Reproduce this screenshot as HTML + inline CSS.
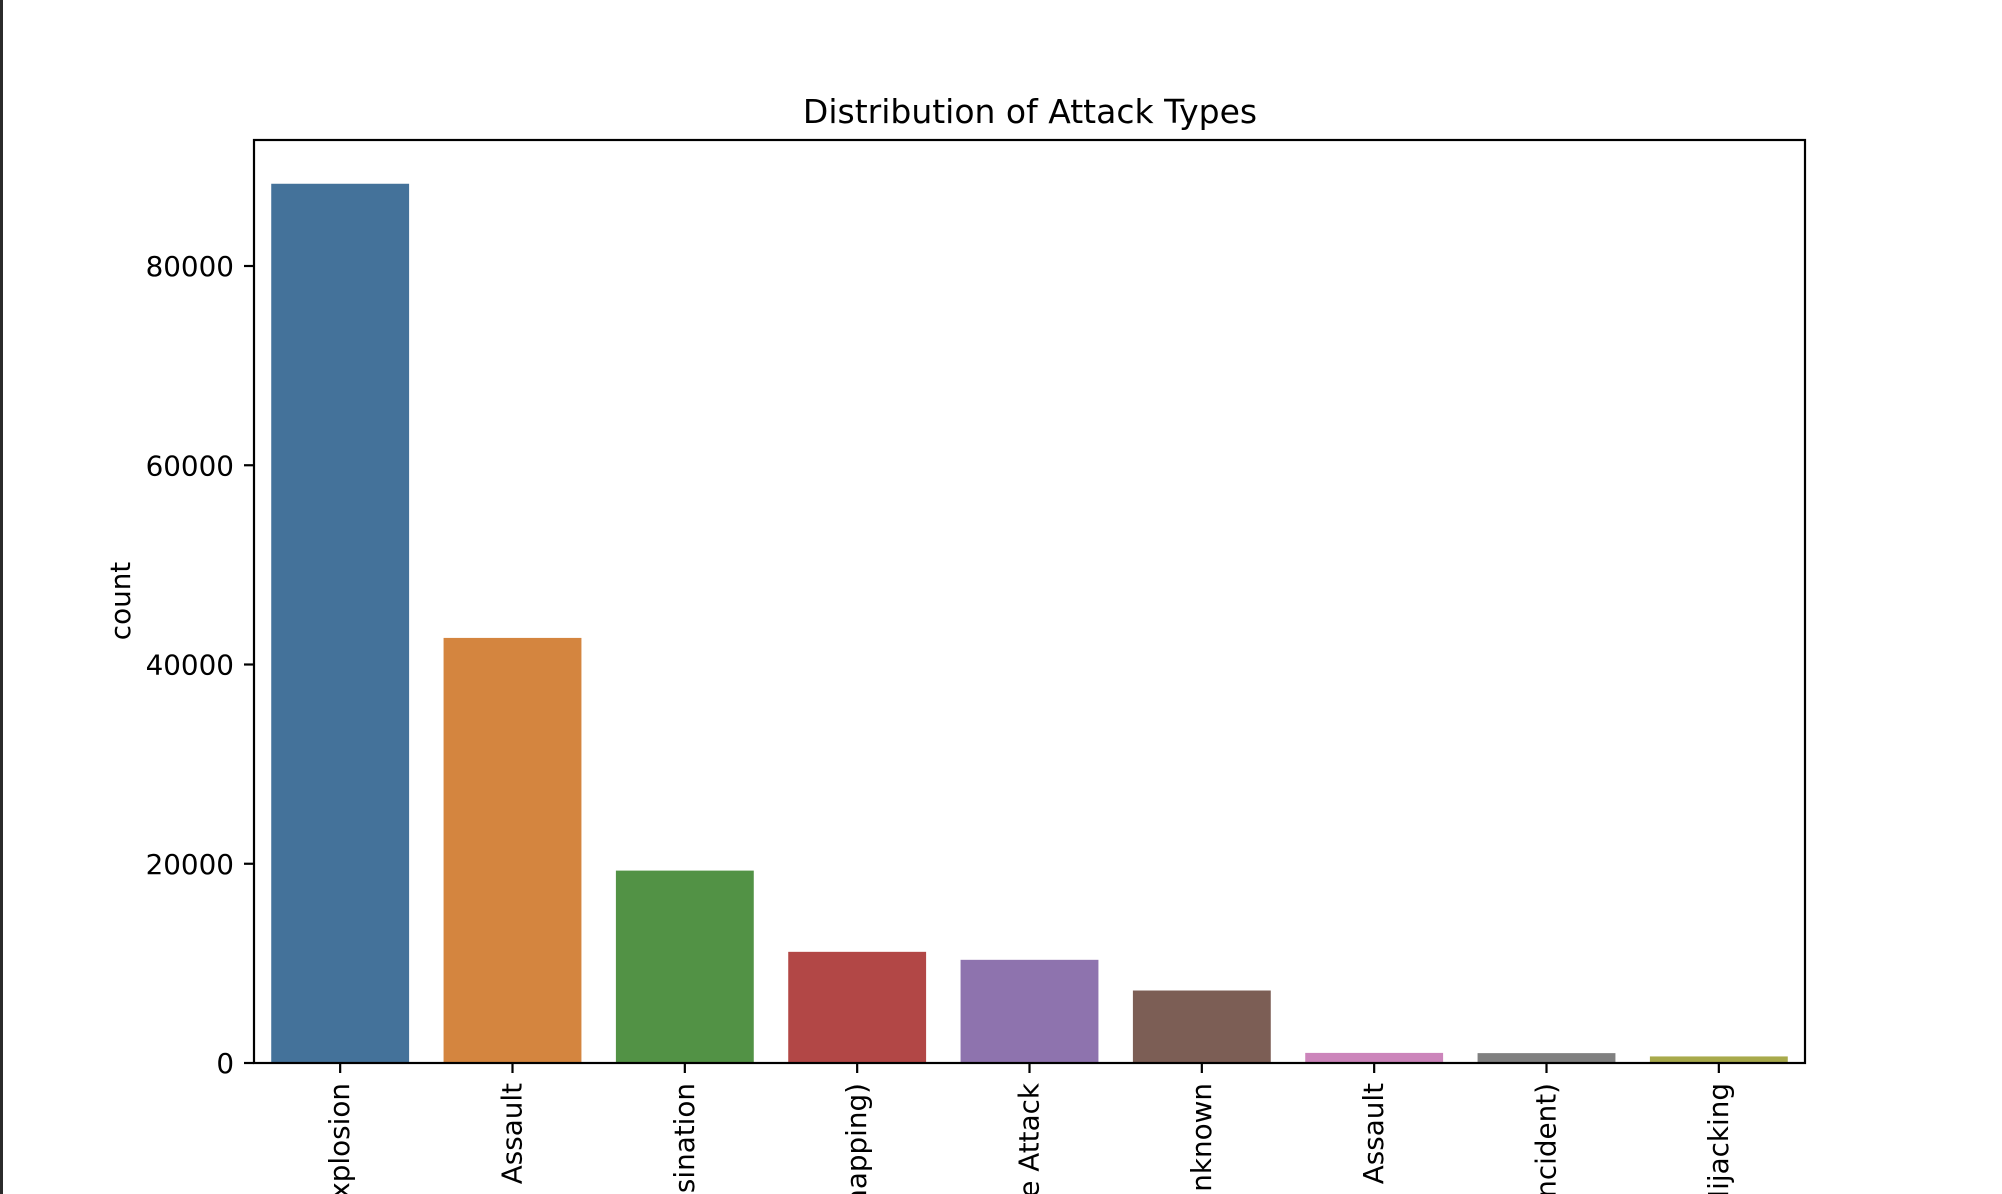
<!DOCTYPE html>
<html><head><meta charset="utf-8"><style>
html,body{margin:0;padding:0;background:#fff;width:2002px;height:1194px;overflow:hidden;}
svg{display:block;font-family:"DejaVu Sans","Liberation Sans",sans-serif;}
</style></head><body>
<svg id="chart" width="2002" height="1194" viewBox="0 0 2002 1194" overflow="hidden">
<rect x="0" y="0" width="3" height="1194" fill="#2b2b2b"/>
<text x="1030" y="123" font-size="33" text-anchor="middle" fill="#000">Distribution of Attack Types</text>
<text transform="translate(130,601) rotate(-90)" font-size="27.8" text-anchor="middle" fill="#000">count</text>
<g id="bars"></g>
<g id="yticks"></g>
<g id="xticks"></g>
<rect x="254" y="140" width="1551" height="923" fill="none" stroke="#000" stroke-width="2.2"/>
</svg>
<script>
const categories = ["Bombing/Explosion","Armed Assault","Assassination","Hostage Taking (Kidnapping)","Facility/Infrastructure Attack","Unknown","Unarmed Assault","Hostage Taking (Barricade Incident)","Hijacking"];
const counts = [88255,42669,19312,11158,10356,7276,1015,991,659];
const colors = ["#44729a","#d4853f","#529245","#b24746","#8e73ae","#7c5e55","#cc85bb","#808080","#a8aa4b"];
const yTicks = [0,20000,40000,60000,80000];

const NS="http://www.w3.org/2000/svg";
const L=254,R=1805,T=140,B=1063;
const pxPerUnit=797/80000;
function y(v){return B-v*pxPerUnit;}
function x(i){return L+(i+0.5)/categories.length*(R-L);}
const slot=(R-L)/categories.length, bw=slot*0.8;
const gb=document.getElementById('bars'), gy=document.getElementById('yticks'), gx=document.getElementById('xticks');
counts.forEach((v,i)=>{
  const r=document.createElementNS(NS,'rect');
  r.setAttribute('x',x(i)-bw/2);r.setAttribute('y',y(v));
  r.setAttribute('width',bw);r.setAttribute('height',B-y(v));
  r.setAttribute('fill',colors[i]);
  
  
  gb.appendChild(r);
});
yTicks.forEach(t=>{
  const l=document.createElementNS(NS,'line');
  l.setAttribute('x1',L-10);l.setAttribute('x2',L);l.setAttribute('y1',y(t));l.setAttribute('y2',y(t));
  l.setAttribute('stroke','#000');l.setAttribute('stroke-width','2.2');
  
  
  gy.appendChild(l);
  const s=document.createElementNS(NS,'text');
  s.setAttribute('x',L-20);s.setAttribute('y',y(t)+10);
  s.setAttribute('text-anchor','end');s.setAttribute('font-size','27.8');
  s.textContent=String(t);
  
  
  gy.appendChild(s);
});
categories.forEach((c,i)=>{
  const l=document.createElementNS(NS,'line');
  l.setAttribute('x1',x(i));l.setAttribute('x2',x(i));l.setAttribute('y1',B);l.setAttribute('y2',B+10);
  l.setAttribute('stroke','#000');l.setAttribute('stroke-width','2.2');
  
  
  gx.appendChild(l);
  const s=document.createElementNS(NS,'text');
  s.setAttribute('transform','translate('+(x(i)+9)+','+(B+20)+') rotate(-90)');
  s.setAttribute('text-anchor','end');s.setAttribute('font-size','27.8');
  s.textContent=c;
  
  
  gx.appendChild(s);
});
</script>
</body></html>
